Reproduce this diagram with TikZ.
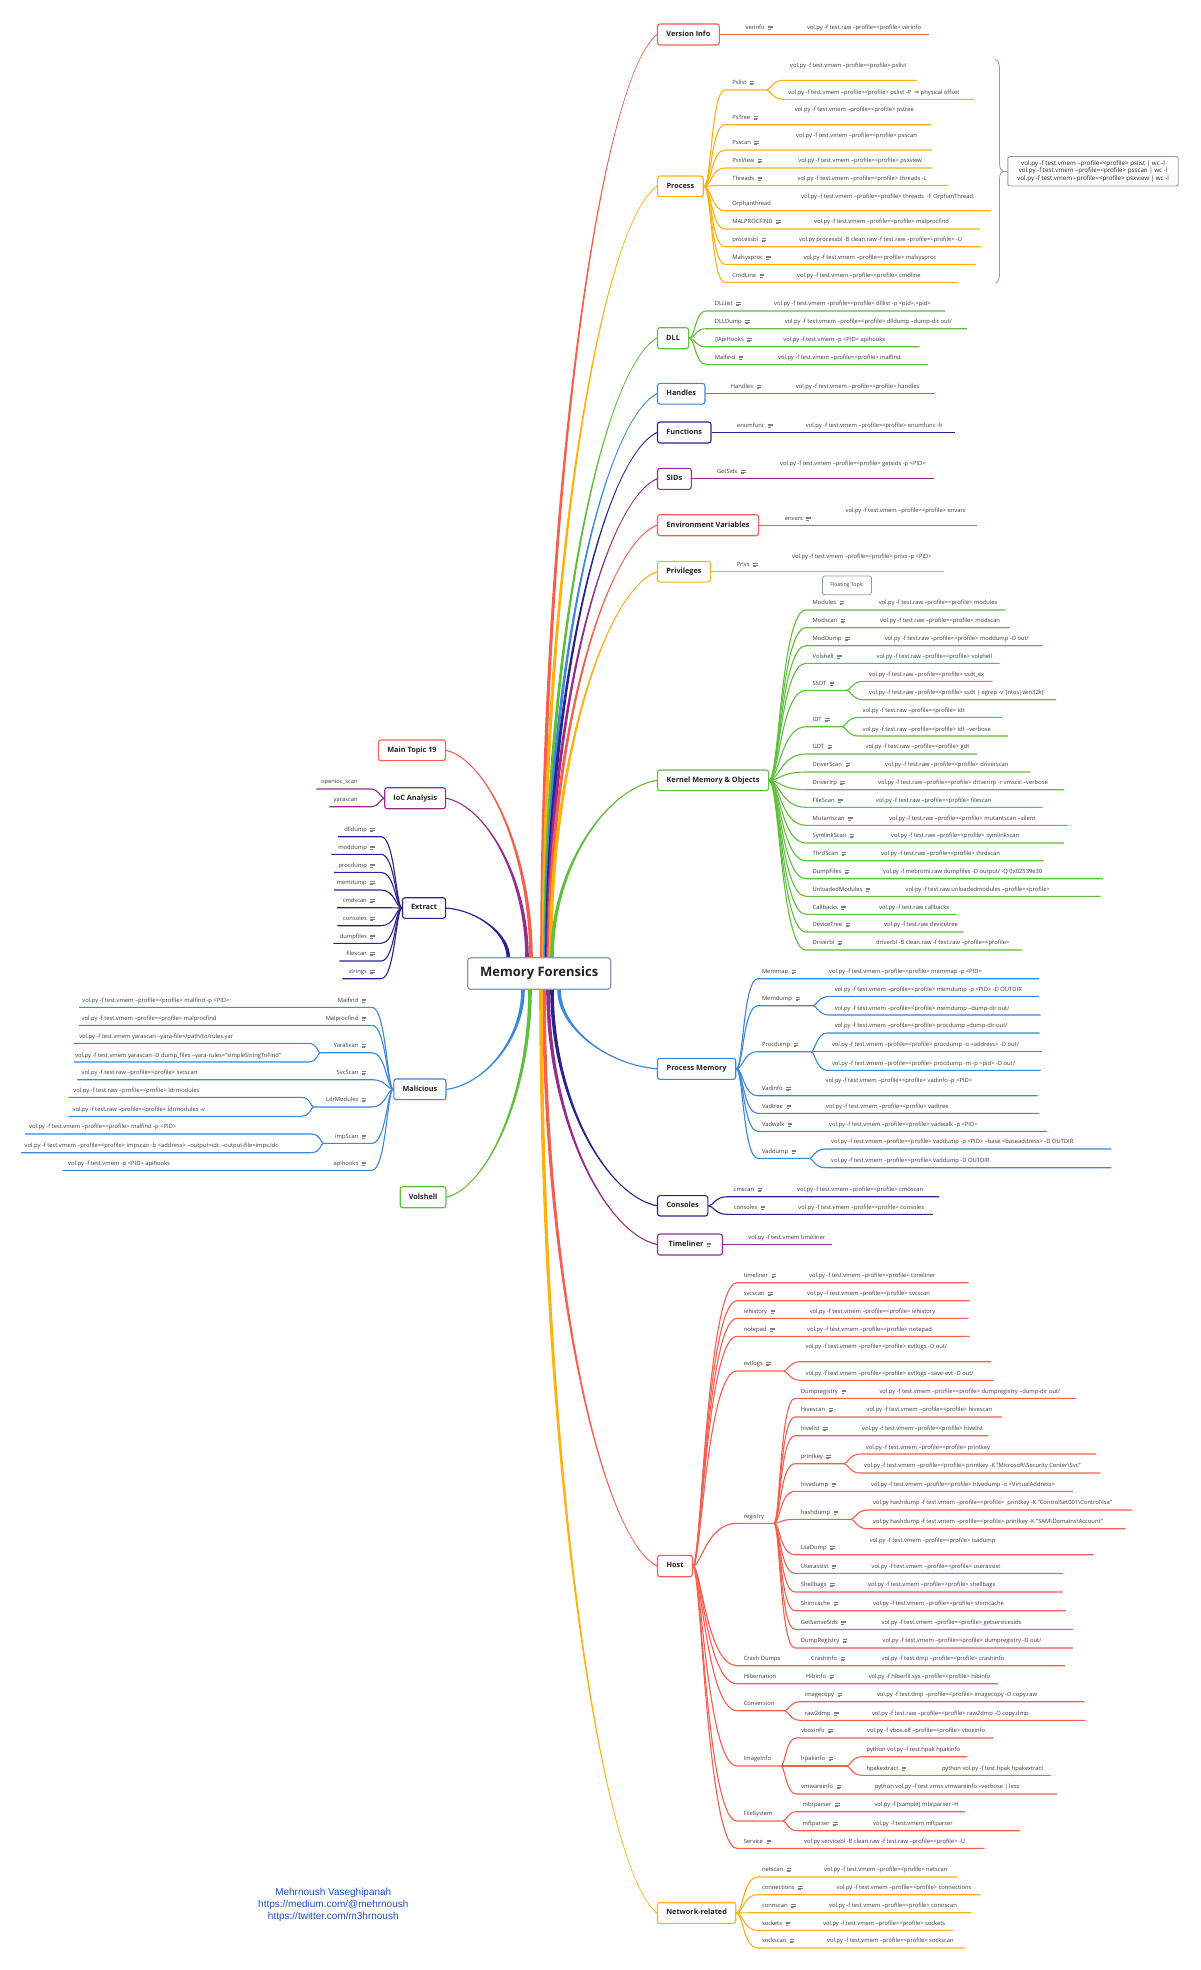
\documentclass[tikz,border=0pt]{standalone}
\usepackage{fontspec}
\setmainfont{Open Sans}
\newfontfamily\djv{DejaVu Sans}
\newfontfamily\credf{Liberation Sans}
\usetikzlibrary{backgrounds}
\definecolor{cR}{HTML}{F65E4D}
\definecolor{cO}{HTML}{FFB10F}
\definecolor{cG}{HTML}{5FBE3C}
\definecolor{cB}{HTML}{3A87DC}
\definecolor{cN}{HTML}{29248C}
\definecolor{cP}{HTML}{962C8C}
\definecolor{cGr}{HTML}{8A9AB8}
\definecolor{tx}{HTML}{3A3A3A}
\definecolor{tx2}{HTML}{222222}
\definecolor{icg}{HTML}{808080}
\definecolor{credb}{HTML}{1F4FC4}
\newcommand\smf{\fontsize{5.8}{6.5}\selectfont}
\newcommand\mtf{\fontsize{7.3}{8}\selectfont\bfseries}
\newcommand\noteic{\hspace{3.6pt}{\color{icg}\vbox{\hrule width 4.4pt height 0.5pt\vskip 1pt\hrule width 4.4pt height 0.5pt\vskip 1pt\hrule width 2.8pt height 0.5pt}}}
\tikzset{
 lbl/.style={anchor=base west, inner sep=0pt, font=\smf, text=tx, yshift=-1.8pt},
 lblr/.style={anchor=base east, inner sep=0pt, font=\smf, text=tx, yshift=-1.8pt},
 cmd/.style={anchor=base west, inner sep=0pt, font=\smf, text=tx, yshift=-1.8pt},
 sub/.style={line width=1.1pt},
 mt/.style={draw, fill=white, rounded corners=2.5pt, line width=1.1pt, inner sep=0pt, font=\mtf, text=tx2, text height=5.3pt, text depth=1.5pt},
}
% right leaf with command
\newcommand\RL[8]{%
 \node[lbl] (#1l) at (\Lx,#3-7) {#5};
 \node[cmd] (#1c) at (#6,#7) {#8};
 \coordinate (#1e) at (#4,#3);
 \draw[sub,draw=\Bc] (#2) .. controls +(\Kk,0) and +(-\Mm,0) .. (\Sx,#3) -- (#1e);}
% right split child
\newcommand\RLs[5]{%
 \node[lbl] (#1l) at (\Lx,#3-7) {#5};
 \coordinate (#1s) at (#4,#3);
 \draw[sub,draw=\Bc] (#2) .. controls +(\Kk,0) and +(-\Mm,0) .. (\Sx,#3) -- (#1s);}
% right sub command
\newcommand\SUB[8]{%
 \node[cmd] (#1c) at (#6,#7) {#8};
 \coordinate (#1e) at (#5,#4);
 \draw[sub,draw=\Bc] (#2) .. controls +(3,0) and +(-10,0) .. (#3,#4) -- (#1e);}
% left leaves
\newcommand\LLn[5]{%
 \node[lblr] (#1l) at (\Lx,#3-7) {#5};
 \coordinate (#1e) at (#4,#3);
 \draw[sub,draw=\Bc] (#2) .. controls +(-\Kk,0) and +(\Mm,0) .. (\Sx,#3) -- (#1e);}
\newcommand\LL[8]{\LLn{#1}{#2}{#3}{#4}{#5}\node[cmd] (#1c) at (#6,#7) {#8};}
\newcommand\LLs[5]{%
 \node[lblr] (#1l) at (\Lx,#3-7) {#5};
 \coordinate (#1s) at (#4,#3);
 \draw[sub,draw=\Bc] (#2) .. controls +(-\Kk,0) and +(\Mm,0) .. (\Sx,#3) -- (#1s);}
\newcommand\LSUB[8]{%
 \node[cmd] (#1c) at (#6,#7) {#8};
 \coordinate (#1e) at (#5,#4);
 \draw[sub,draw=\Bc] (#2) .. controls +(-3,0) and +(10,0) .. (#3,#4) -- (#1e);}
% tapered main branch
\newcommand\MB[8]{%
 \fill[#1] ([xshift=-#6pt]#2) .. controls ([xshift=-#6pt]#3) and ([yshift=#7pt]#4) .. ([yshift=#7pt]#5)
  -- ([yshift=#8pt]#5) .. controls ([yshift=#8pt]#4) and ([xshift=#6pt]#3) .. ([xshift=#6pt]#2) -- cycle;}
% main topic box
\newcommand\MT[7]{\node[mt, draw=#2, minimum width=#5pt, minimum height=#6pt] (#1) at (#3,#4) {#7};}

\begin{document}
\begin{tikzpicture}[x=1pt,y=-1pt]
\useasboundingbox (0,0) rectangle (1200,1970);

% ---------- central and main topics ----------
\node[draw=cGr, fill=white, line width=1.2pt, rounded corners=3pt, minimum width=143pt, minimum height=31.6pt, inner sep=0pt, font=\fontsize{13}{14}\selectfont\bfseries, text=tx2, text height=9.4pt, text depth=2.6pt] (mf) at (539.2,973.5) {Memory Forensics};

\MT{vi}{cR}{688.4}{34.5}{61.8}{21}{Version Info}
\MT{proc}{cO}{680.35}{186.3}{45.7}{20.7}{Process}
\MT{dll}{cG}{673.05}{338.2}{31.1}{21}{DLL}
\MT{hdl}{cB}{681.25}{393.7}{47.5}{20.7}{Handles}
\MT{fun}{cN}{684.25}{432.5}{53.5}{21}{Functions}
\MT{sid}{cP}{674.45}{478.8}{33.9}{21}{SIDs}
\MT{env}{cR}{708.05}{525.2}{101.1}{21}{Environment Variables}
\MT{prv}{cO}{683.95}{571.7}{52.9}{20.7}{Privileges}
\MT{ker}{cG}{713.05}{780.3}{111.1}{20.7}{Kernel Memory \& Objects}
\MT{pm}{cB}{696.6}{1068.8}{78.2}{21}{Process Memory}
\MT{con}{cN}{682.7}{1205.8}{50.4}{20.3}{Consoles}
\MT{tim}{cP}{690}{1244.5}{65}{21}{Timeliner\noteic}
\MT{host}{cR}{675}{1566}{35}{21.4}{Host}
\MT{net}{cO}{696.6}{1913}{78.2}{20.6}{Network-related}
\MT{mt19}{cR}{412}{750.3}{67.2}{20.7}{Main Topic 19}
\MT{ioc}{cP}{415.15}{798.2}{60.9}{21}{IoC Analysis}
\MT{ext}{cN}{424.05}{908}{43.1}{20.6}{Extract}
\MT{mal}{cB}{419.9}{1089.3}{52.2}{20.7}{Malicious}
\MT{vol}{cG}{423.1}{1197.2}{45.8}{21}{Volshell}

% roots
\coordinate (r1) at (542,957.7);
\coordinate (r2) at (543.5,957.7);
\coordinate (r3) at (545,957.7);
\coordinate (r4) at (546,957.7);
\coordinate (r5) at (547,957.7);
\coordinate (r6) at (548,957.7);
\coordinate (r7) at (549,957.7);
\coordinate (r8) at (550.5,957.7);
\coordinate (r9) at (552,957.7);
\coordinate (r10) at (559,989.3);
\coordinate (r11) at (552,989.3);
\coordinate (r12) at (548,989.3);
\coordinate (r13) at (544,989.3);
\coordinate (r14) at (541,989.3);
\coordinate (r15) at (531,957.7);
\coordinate (r16) at (527,957.7);
\coordinate (r17) at (508.3,957.7);
\coordinate (r18) at (523,989.3);
\coordinate (r19) at (530,989.3);

\begin{pgfonlayer}{background}
\fill[white] (0,0) rectangle (1200,1970);
\MB{cR}{r1}{542,496.1}{599.75,80.7}{vi.west}{1.8}{0.6}{-0.6}
\MB{cO}{r2}{543.5,572}{600.5,224.9}{proc.west}{1.8}{0.6}{-0.6}
\MB{cG}{r3}{545,648}{601.25,369.2}{dll.west}{1.8}{0.6}{-0.6}
\MB{cB}{r4}{546,675.7}{601.75,421.9}{hdl.west}{1.8}{0.6}{-0.6}
\MB{cN}{r5}{547,695.1}{602.25,458.8}{fun.west}{1.8}{0.6}{-0.6}
\MB{cP}{r6}{548,718.3}{602.75,502.7}{sid.west}{1.8}{0.6}{-0.6}
\MB{cR}{r7}{549,741.5}{603.25,546.8}{env.west}{1.8}{0.6}{-0.6}
\MB{cO}{r8}{550.5,764.7}{604,591}{prv.west}{1.8}{0.6}{-0.6}
\MB{cG}{r9}{552,869}{604.75,789.2}{ker.west}{1.8}{0.6}{-0.6}
\MB{cB}{r10}{559,1029}{608.25,1064.8}{pm.west}{1.8}{-0.6}{0.6}
\MB{cN}{r11}{552,1097.5}{604.75,1195}{con.west}{1.8}{-0.6}{0.6}
\MB{cP}{r12}{548,1117}{602.75,1231.7}{tim.west}{1.8}{-0.6}{0.6}
\MB{cR}{r13}{544,1277.6}{600.75,1537.2}{host.west}{1.8}{-0.6}{0.6}
\MB{cO}{r14}{541,1451.2}{599.25,1866.8}{net.west}{1.8}{-0.6}{0.6}
\MB{cR}{r15}{531,854}{488.3,760.7}{mt19.east}{1.8}{-0.6}{0.6}
\MB{cP}{r16}{527,878}{486.3,806.2}{ioc.east}{1.8}{-0.6}{0.6}
\MB{cN}{r17}{508.3,932.9}{477,910.5}{ext.east}{1.8}{-0.6}{0.6}
\MB{cB}{r18}{523,1039.3}{484.5,1084.3}{mal.east}{1.8}{0.6}{-0.6}
\MB{cG}{r19}{530,1093.3}{488,1186.8}{vol.east}{1.8}{0.6}{-0.6}
\end{pgfonlayer}

% ---------- Version Info ----------
\def\Bc{cR}\def\Sx{729}\def\Lx{745.4}\def\Kk{3}\def\Mm{3}
\RL{vi1}{vi.east}{34.5}{928.6}{verinfo\noteic}{806.8}{27.5}{vol.py -f test.raw --profile=<profile> verinfo}

% ---------- Process ----------
\def\Bc{cO}\def\Sx{725}\def\Lx{732.1}\def\Kk{8}\def\Mm{14}
\RLs{pslist}{proc.east}{90}{766.8}{Pslist\noteic}
\SUB{ps1}{pslists}{783}{80.3}{916.8}{790}{66}{vol.py -f test.vmem --profile=<profile> pslist}
\SUB{ps2}{pslists}{783}{99.3}{974}{788.2}{92.3}{vol.py -f test.vmem --profile=<profile> pslist -P \ {\djv ⇒} physical offset}
\RL{pstree}{proc.east}{124.7}{931}{PsTree\noteic}{794.6}{110}{vol.py -f test.vmem --profile=<profile> pstree}
\RL{psscan}{proc.east}{150}{932}{Psscan\noteic}{796}{135.3}{vol.py -f test.vmem --profile=<profile> psscan}
\RL{psxview}{proc.east}{168}{932}{PsxView\noteic}{798.2}{161}{vol.py -f test.vmem --profile=<profile> psxview}
\RL{threads}{proc.east}{185.3}{947.9}{Threads\noteic}{797.5}{178.3}{vol.py -f test.vmem --profile=<profile> threads -L}
\RL{orph}{proc.east}{210.7}{990.7}{Orphanthread}{801}{196.3}{vol.py -f test.vmem --profile=<profile> threads \ -F OrphanThread}
\RL{malpf}{proc.east}{229}{980}{MALPROCFIND\noteic}{814}{222}{vol.py -f test.vmem --profile=<profile> malprocfind}
\RL{procbl}{proc.east}{246.7}{981}{processbl\noteic}{799}{239.7}{vol.py processbl -B clean.raw -f test.raw --profile=<profile> -U}
\RL{malsys}{proc.east}{264.3}{975}{Malsysproc\noteic}{803.6}{257.3}{vol.py -f test.vmem --profile=<profile> malsysproc}
\RL{cmdl}{proc.east}{282.3}{957.9}{CmdLine\noteic}{797}{275.3}{vol.py -f test.vmem --profile=<profile> cmdline}

% brace and summary
\node[draw=cGr, fill=white, line width=0.9pt, rounded corners=2pt, minimum width=170.3pt, minimum height=29.3pt, inner sep=0pt, align=center, font=\fontsize{6.2}{7.6}\selectfont, text=tx2] (sum) at (1093.05,171.3) {vol.py -f test.vmem --profile=<profile> pslist | wc -l\\ vol.py -f test.vmem --profile=<profile> psscan | wc -l\\ vol.py -f test.vmem --profile=<profile> psxview | wc -l};
\coordinate (bt) at (995.4,59.3);
\coordinate (bb) at (995.4,283.3);
\coordinate (btip) at (1003,171.3);
\draw[cGr, line width=0.8pt] (bt) .. controls (999.5,61) and (999.5,65) .. (999.5,75) -- (999.5,163) .. controls (999.5,168) and (1001,170.5) .. (btip) .. controls (1001,172.1) and (999.5,174.6) .. (999.5,179.6) -- (999.5,268) .. controls (999.5,278) and (999.5,281.6) .. (bb);
\draw[cGr, line width=0.8pt] (btip) -- (sum.west);

% ---------- DLL ----------
\def\Bc{cG}\def\Sx{706}\def\Lx{714.6}\def\Kk{6}\def\Mm{11}
\RL{dl1}{dll.east}{311}{945.4}{DLLlist\noteic}{774}{304}{vol.py -f test.vmem --profile=<profile> dlllist -p <pid>,<pid>}
\RL{dl2}{dll.east}{328.7}{966.8}{DLLDump\noteic}{784.6}{321.7}{vol.py -f test.vmem --profile=<profile> dlldump --dump-dir out/}
\RL{dl3}{dll.east}{346.7}{919.6}{{\djv ▯}ApiHooks\noteic}{783.2}{339.7}{vol.py -f test.vmem -p <PID> apihooks}
\RL{dl4}{dll.east}{364.3}{927.9}{Malfind\noteic}{777.9}{357.3}{vol.py -f test.vmem --profile=<profile> malfind}

% ---------- single-child topics ----------
\def\Bc{cB}\def\Sx{715}\def\Lx{730.7}
\RL{hd1}{hdl.east}{393.7}{934.6}{Handles\noteic}{795.7}{386.7}{vol.py -f test.vmem --profile=<profile> handles}
\def\Bc{cN}\def\Sx{721}\def\Lx{736.8}
\RL{fn1}{fun.east}{432.5}{955}{enumfunc\noteic}{805.7}{425.5}{vol.py -f test.vmem --profile=<profile> enumfunc -h}
\def\Bc{cP}\def\Sx{701}\def\Lx{716.8}
\RL{sd1}{sid.east}{478.8}{934}{GetSids\noteic}{780}{463.7}{vol.py -f test.vmem --profile=<profile> getsids -p <PID>}
\def\Bc{cR}\def\Sx{768}\def\Lx{784.6}
\RL{ev1}{env.east}{525.2}{976.8}{envars\noteic}{845.4}{510.3}{vol.py -f test.vmem --profile=<profile> envars}
\def\Bc{cO}\def\Sx{720}\def\Lx{736.4}
\RL{pv1}{prv.east}{571.7}{944}{Privs\noteic}{792}{556.7}{vol.py -f test.vmem --profile=<profile> privs -p <PID>}

\node[draw=cGr, line width=0.8pt, rounded corners=2pt, minimum width=48.9pt, minimum height=18.7pt, inner sep=0pt, font=\fontsize{5.2}{6}\selectfont, text=tx] (ft) at (846.95,585.3) {Floating Topic};

% ---------- Kernel ----------
\def\Bc{cG}\def\Sx{806}\def\Lx{812.5}\def\Kk{10}\def\Mm{25}
\RL{k1}{ker.east}{610}{1005.4}{Modules\noteic}{878.6}{603}{vol.py -f test.raw --profile=<profile> modules}
\RL{k2}{ker.east}{627.7}{1009.6}{Modscan\noteic}{880}{620.7}{vol.py -f test.raw --profile=<profile> modscan}
\RL{k3}{ker.east}{645.7}{1042.5}{ModDump\noteic}{884.6}{638.7}{vol.py -f test.raw --profile=<profile> moddump -D out/}
\RL{k4}{ker.east}{663.3}{999.6}{Volshell\noteic}{876.4}{656.3}{vol.py -f test.raw --profile=<profile> volshell}
\RLs{k5}{ker.east}{690.3}{847}{SSDT\noteic}
\SUB{k5a}{k5s}{863}{681.3}{992.5}{869}{674.3}{vol.py -f test.raw --profile=<profile> ssdt\_ex}
\SUB{k5b}{k5s}{863}{699.7}{1056}{869}{693}{vol.py -f test.raw --profile=<profile> ssdt | egrep -v '(ntos|win32k)'}
\RLs{k6}{ker.east}{726.7}{842.5}{IDT\noteic}
\SUB{k6a}{k6s}{858}{717.3}{1001.8}{862.5}{710.7}{vol.py -f test.raw --profile=<profile> idt}
\SUB{k6b}{k6s}{858}{736}{1007.9}{862.5}{729.3}{vol.py -f test.raw --profile=<profile> idt --verbose}
\RL{k7}{ker.east}{754}{976.8}{GDT\noteic}{865.4}{747}{vol.py -f test.raw --profile=<profile> gdt}
\RL{k8}{ker.east}{772}{1030.4}{DriverScan\noteic}{885}{765}{vol.py -f test.raw --profile=<profile> driverscan}
\RL{k9}{ker.east}{789.7}{1064}{DriverIrp\noteic}{877.9}{782.7}{vol.py -f test.raw --profile=<profile> driverirp -r vmscsi --verbose}
\RL{k10}{ker.east}{807.3}{1042.5}{FileScan\noteic}{875.7}{800.3}{vol.py -f test.raw --profile=<profile> filescan}
\RL{k11}{ker.east}{825.3}{1067.5}{Mutantscan\noteic}{889}{818.3}{vol.py -f test.raw --profile=<profile> mutantscan --silent}
\RL{k12}{ker.east}{843}{1064}{SymlinkScan\noteic}{891}{836}{vol.py -f test.raw --profile=<profile> symlinkscan}
\RL{k13}{ker.east}{860.7}{1043.6}{ThrdScan\noteic}{881}{853.7}{vol.py -f test.raw --profile=<profile> thrdscan}
\RL{k14}{ker.east}{878.7}{1103}{DumpFiles\noteic}{882.9}{871.7}{vol.py -f mebromi.raw dumpfiles -D output/ -Q 0x02539e30}
\RL{k15}{ker.east}{896.3}{1100.7}{UnloadedModules\noteic}{905.4}{889.3}{vol.py -f test.raw unloadedmodules --profile=<profile>}
\RL{k16}{ker.east}{914.3}{956.4}{Callbacks\noteic}{879}{907.3}{vol.py -f test.raw callbacks}
\RL{k17}{ker.east}{932}{963.6}{DeviceTree\noteic}{884}{925}{vol.py -f test.raw devicetree}
\RL{k18}{ker.east}{950}{1022}{Driverbl\noteic}{876}{943}{driverbl -B clean.raw -f test.raw --profile=<profile>}

% ---------- Process Memory ----------
\def\Bc{cB}\def\Sx{758}\def\Lx{761.8}\def\Kk{7}\def\Mm{15}
\RL{pm1}{pm.east}{978.7}{1039}{Memmap\noteic}{829}{971.7}{vol.py -f test.vmem --profile=<profile> memmap -p <PID>}
\RLs{pm2}{pm.east}{1005.7}{813.2}{Memdump\noteic}
\SUB{pm2a}{pm2s}{829}{996.3}{1039}{834.6}{989.3}{vol.py -f test.vmem --profile=<profile> memdump -p <PID> -D OUTDIR}
\SUB{pm2b}{pm2s}{829}{1015}{1040.7}{834.6}{1008.3}{vol.py -f test.vmem --profile=<profile> memdump --dump-dir out/}
\RLs{pm3}{pm.east}{1051.7}{811.4}{Procdump\noteic}
\SUB{pm3a}{pm3s}{827}{1033}{1039.6}{834.6}{1026}{vol.py -f test.vmem --profile=<profile> procdump --dump-dir out/}
\SUB{pm3b}{pm3s}{827}{1051.7}{1041.8}{831.8}{1044.7}{vol.py -f test.vmem --profile=<profile> procdump -o <address> -D out/}
\SUB{pm3c}{pm3s}{827}{1070.3}{1040.7}{831.8}{1063.3}{vol.py -f test.vmem --profile=<profile> procdump -m -p <pid> -D out/}
\RL{pm4}{pm.east}{1095.7}{1037.5}{Vadinfo\noteic}{825.4}{1081}{vol.py -f test.vmem --profile=<profile> vadinfo -p <PID>}
\RL{pm5}{pm.east}{1113.3}{1039.3}{Vadtree\noteic}{826}{1106.3}{vol.py -f test.vmem --profile=<profile> vadtree}
\RL{pm6}{pm.east}{1131.3}{1047}{Vadwalk\noteic}{829}{1124.3}{vol.py -f test.vmem --profile=<profile> vadwalk -p <PID>}
\RLs{pm7}{pm.east}{1158.3}{809.6}{Vaddump\noteic}
\SUB{pm7a}{pm7s}{825}{1149}{1111.4}{831}{1142}{vol.py -f test.vmem --profile=<profile> vaddump -p <PID> --base <baseaddress> -D OUTDIR}
\SUB{pm7b}{pm7s}{825}{1167.7}{1111.4}{831}{1160.7}{vol.py -f test.vmem --profile=<profile> vaddump -D OUTDIR}

% ---------- Consoles ----------
\def\Bc{cN}\def\Sx{727}\def\Lx{733.6}\def\Kk{5}\def\Mm{12}
\RL{cs1}{con.east}{1196.7}{939.3}{cmscan\noteic}{797}{1189.7}{vol.py -f test.vmem --profile=<profile> cmdscan}
\RL{cs2}{con.east}{1214.3}{932.9}{consoles\noteic}{798.2}{1207.3}{vol.py -f test.vmem --profile=<profile> consoles}

% ---------- Timeliner ----------
\coordinate (tm1e) at (831.8,1244.5);
\draw[sub,draw=cP] (tim.east) -- (tm1e);
\node[cmd] (tm1c) at (748.2,1237.5) {vol.py -f test.vmem timeliner};

% ---------- Host ----------
\def\Bc{cR}\def\Sx{737}\def\Lx{743.6}\def\Kk{8}\def\Mm{30}
\RL{ho1}{host.east}{1282.7}{968.6}{timeliner\noteic}{809}{1275.7}{vol.py -f test.vmem --profile=<profile> timeliner}
\RL{ho2}{host.east}{1300.7}{969.6}{svcscan\noteic}{807}{1293.7}{vol.py -f test.vmem --profile=<profile> svcscan}
\RL{ho3}{host.east}{1318.3}{968.6}{iehistory\noteic}{809.6}{1311.3}{vol.py -f test.vmem --profile=<profile> iehistory}
\RL{ho4}{host.east}{1336.3}{969.6}{notepad\noteic}{807}{1329.3}{vol.py -f test.vmem --profile=<profile> notepad}
\RLs{evt}{host.east}{1371}{784}{evtlogs\noteic}
\SUB{evt1}{evts}{800}{1361.7}{991}{805.4}{1347}{vol.py -f test.vmem --profile=<profile> evtlogs -D out/}
\SUB{evt2}{evts}{800}{1380.3}{993.6}{805.4}{1373.3}{vol.py -f test.vmem --profile=<profile> evtlogs --save-evt -D out/}
\RLs{reg}{host.east}{1523.3}{774}{registry}
\RL{crash}{host.east}{1665.7}{1065}{Crash Dumps}{881.4}{1658.7}{vol.py -f test.dmp --profile=<profile> crashinfo}
\node[lbl] (crash2) at (811,1658.7) {Crashinfo\noteic};
\RL{hib}{host.east}{1683.7}{997.9}{Hibernation}{868.6}{1676.7}{vol.py -f hiberfil.sys --profile=<profile> hibinfo}
\node[lbl] (hib2) at (806,1676.7) {Hibinfo\noteic};
\RLs{conv}{host.east}{1710.7}{784.6}{Conversion}
\RLs{ii}{host.east}{1766}{781}{ImageInfo}
\RLs{fs}{host.east}{1821}{782.9}{FileSystem}
\RL{svc}{host.east}{1848.3}{984.6}{Service\noteic}{804}{1841.3}{vol.py servicebl -B clean.raw -f test.raw --profile=<profile> -U}

% registry
\def\Sx{795}\def\Lx{800.7}\def\Kk{6}\def\Mm{15}
\RL{rg1}{regs}{1398.3}{1076.4}{Dumpregistry\noteic}{879.3}{1391.3}{vol.py -f test.vmem --profile=<profile> dumpregistry --dump-dir out/}
\RL{rg2}{regs}{1417}{1001.8}{Hivescan\noteic}{866.4}{1410}{vol.py -f test.vmem --profile=<profile> hivescan}
\RL{rg3}{regs}{1435.7}{988.2}{hivelist\noteic}{862}{1428.7}{vol.py -f test.vmem --profile=<profile> hivelist}
\RLs{pk}{regs}{1463.7}{844.3}{printkey\noteic}
\SUB{pk1}{pks}{860}{1454}{1096}{865.7}{1447.3}{vol.py -f test.vmem --profile=<profile> printkey}
\SUB{pk2}{pks}{860}{1473}{1100.4}{864}{1466}{vol.py -f test.vmem --profile=<profile> printkey -K "Microsoft\textbackslash Security Center\textbackslash Svc"}
\RL{rg4}{regs}{1491.3}{1072.9}{hivedump\noteic}{871}{1484.3}{vol.py -f test.vmem --profile=<profile> hivedump -o <VirtualAddress>}
\RLs{hsd}{regs}{1519.3}{851.4}{hashdump\noteic}
\SUB{hsd1}{hsds}{867}{1510}{1132}{872.9}{1503}{vol.py hashdump -f test.vmem --profile=<profile> \ printkey -K "ControlSet001\textbackslash Control\textbackslash lsa"}
\SUB{hsd2}{hsds}{867}{1528.7}{1125.7}{872.9}{1521.7}{vol.py hashdump -f test.vmem --profile=<profile> printkey -K "SAM\textbackslash Domains\textbackslash Account"}
\RL{rg5}{regs}{1554.7}{1093.6}{LsaDump\noteic}{869.6}{1540.3}{vol.py -f test.vmem --profile=<profile> lsadump}
\RL{rg6}{regs}{1573.3}{1063.2}{Userassist\noteic}{871.4}{1566.3}{vol.py -f test.vmem --profile=<profile> userassist}
\RL{rg7}{regs}{1592}{1062.5}{Shellbags\noteic}{867.9}{1585}{vol.py -f test.vmem --profile=<profile> shellbags}
\RL{rg8}{regs}{1610.7}{1066}{Shimcache\noteic}{872.9}{1603.7}{vol.py -f test.vmem --profile=<profile> shimcache}
\RL{rg9}{regs}{1629.3}{1073.2}{GetSeriveSids\noteic}{881.4}{1622.3}{vol.py -f test.vmem --profile=<profile> getservicesids}
\RL{rg10}{regs}{1648}{1073.2}{DumpRegistry\noteic}{882.5}{1641}{vol.py -f test.vmem --profile=<profile> dumpregistry -D out/}

% conversion
\def\Sx{800}\def\Lx{804.6}\def\Kk{4}\def\Mm{10}
\RL{cv1}{convs}{1701.7}{1084.6}{imagecopy\noteic}{876.8}{1694.7}{vol.py -f test.dmp --profile=<profile> imagecopy -O copy.raw}
\RL{cv2}{convs}{1720.3}{1085.4}{raw2dmp\noteic}{871.8}{1713.3}{vol.py -f test.raw --profile=<profile> raw2dmp -O copy.dmp}

% imageinfo
\def\Sx{796}\def\Lx{801}\def\Kk{4}\def\Mm{10}
\RL{im1}{iis}{1738}{993.6}{vboxinfo\noteic}{867}{1731}{vol.py -f vbox.elf --profile=<profile> vboxinfo}
\RLs{hpak}{iis}{1766}{847}{hpakinfo\noteic}
\SUB{hp1}{hpaks}{862}{1756.7}{966.8}{866.4}{1749.7}{python vol.py -f test.hpak hpakinfo}
\SUB{hp2}{hpaks}{862}{1775.3}{1050.7}{941.8}{1768.3}{python vol.py -f test.hpak hpakextract}
\node[lbl] (hp2l) at (866.4,1768.3) {hpakextract\noteic};
\RL{im3}{iis}{1794}{1057}{vmwareinfo\noteic}{874.6}{1787}{python vol.py -f test.vmss vmwareinfo --verbose | less}

% filesystem
\def\Sx{797}\def\Lx{802.5}\def\Kk{4}\def\Mm{10}
\RL{fs1}{fss}{1811.7}{965}{mbrparser\noteic}{874.3}{1804.7}{vol.py -f [sample] mbrparser -H}
\RL{fs2}{fss}{1830.7}{1020}{mftparser\noteic}{872.9}{1823.7}{vol.py -f test.vmem mftparser}

% ---------- Network ----------
\def\Bc{cO}\def\Sx{758}\def\Lx{761.8}\def\Kk{7}\def\Mm{15}
\RL{nt1}{net.east}{1877}{956.8}{netscan\noteic}{824}{1870}{vol.py -f test.vmem --profile=<profile> netscan}
\RL{nt2}{net.east}{1894.7}{980.4}{connections\noteic}{836.4}{1887.7}{vol.py -f test.vmem --profile=<profile> connections}
\RL{nt3}{net.east}{1912.7}{971.4}{connscan\noteic}{829}{1905.7}{vol.py -f test.vmem --profile=<profile> connscan}
\RL{nt4}{net.east}{1930.3}{953.2}{sockets\noteic}{822.9}{1923.3}{vol.py -f test.vmem --profile=<profile> sockets}
\RL{nt5}{net.east}{1948}{965}{sockscan\noteic}{827}{1941}{vol.py -f test.vmem --profile=<profile> sockscan}

% ---------- IoC Analysis ----------
\def\Bc{cP}\def\Sx{372}\def\Lx{357.8}\def\Kk{3}\def\Mm{6}
\LLn{io1}{ioc.west}{789}{316.3}{openioc\_scan}
\LLn{io2}{ioc.west}{806.7}{329.4}{yarascan}

% ---------- Extract ----------
\def\Bc{cN}\def\Sx{381}\def\Lx{375}\def\Kk{6}\def\Mm{14}
\LLn{ex1}{ext.west}{836.7}{338}{dlldump\noteic}
\LLn{ex2}{ext.west}{854.3}{331.4}{moddump\noteic}
\LLn{ex3}{ext.west}{872.3}{334}{procdump\noteic}
\LLn{ex4}{ext.west}{890}{334}{memdump\noteic}
\LLn{ex5}{ext.west}{907.7}{337}{cmdscan\noteic}
\LLn{ex6}{ext.west}{925.7}{337.3}{consoles\noteic}
\LLn{ex7}{ext.west}{943.3}{333.3}{dumpfiles\noteic}
\LLn{ex8}{ext.west}{961}{339.3}{filescan\noteic}
\LLn{ex9}{ext.west}{978.7}{342.4}{strings\noteic}

% ---------- Malicious ----------
\def\Bc{cB}\def\Sx{372}\def\Lx{366.5}\def\Kk{6}\def\Mm{14}
\LL{ma1}{mal.west}{1007.3}{79.1}{Malfind\noteic}{82.2}{1000.5}{vol.py -f test.vmem --profile=<profile> malfind -p <PID>}
\LL{ma2}{mal.west}{1025.3}{79.1}{Malprocfind\noteic}{81.5}{1018.5}{vol.py -f test.vmem --profile=<profile> malprocfind}
\LLs{ma3}{mal.west}{1052.7}{320.3}{YaraScan\noteic}
\LSUB{ma3a}{ma3s}{308}{1043.3}{73.5}{79.1}{1036.7}{vol.py -f test.vmem yarascan --yara-file=/path/to/rules.yar}
\LSUB{ma3b}{ma3s}{308}{1062}{73.5}{75.1}{1055.3}{vol.py -f test.vmem yarascan -D dump\_files --yara-rules="simpleStringToFind"}
\LL{ma4}{mal.west}{1079.7}{77.1}{SvcScan\noteic}{81.5}{1073}{vol.py -f test.raw --profile=<profile> svcscan}
\LLs{ma5}{mal.west}{1107}{313.6}{LdrModules\noteic}
\LSUB{ma5a}{ma5s}{301}{1097.3}{68.4}{73.2}{1090.7}{vol.py -f test.raw --profile=<profile> ldrmodules}
\LSUB{ma5b}{ma5s}{301}{1116.3}{68.4}{72.4}{1109.7}{vol.py -f test.raw --profile=<profile> ldrmodules -v}
\LLs{ma6}{mal.west}{1143.3}{323.5}{impScan\noteic}
\LSUB{ma6a}{ma6s}{311}{1134}{24.9}{28.9}{1127}{vol.py -f test.vmem --profile=<profile> malfind -p <PID>}
\LSUB{ma6b}{ma6s}{311}{1152.7}{21}{24.5}{1146}{vol.py -f test.vmem --profile=<profile> impscan -b <address> --output=idc --output-file=imps.idc}
\LL{ma7}{mal.west}{1170.3}{62.5}{apihooks\noteic}{68}{1163.3}{vol.py -f test.vmem -p <PID> apihooks}

% ---------- credits ----------
\node[font=\credf\fontsize{10}{11.7}\selectfont, text=credb, align=center, inner sep=0pt] (cred) at (333.3,1904.7) {Mehrnoush Vaseghipanah\\https://medium.com/@mehrnoush\\https://twitter.com/m3hrnoush};
\end{tikzpicture}
\end{document}
